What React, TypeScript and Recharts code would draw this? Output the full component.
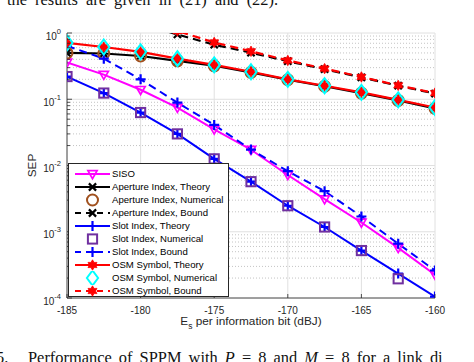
import React from 'react';
import { LineChart, Line, XAxis, YAxis, CartesianGrid, Legend } from 'recharts';

// ---------- data ----------
const ebValues = [-185, -182.5, -180, -177.5, -175, -172.5, -170, -167.5, -165, -162.5, -160];
const sisoSep = [0.36, 0.235, 0.139, 0.0745, 0.035, 0.0173, 0.0072, 0.0031, 0.00138, 0.00057, 0.000225];
const apertureTheory = [0.5, 0.49, 0.45, 0.38, 0.32, 0.255, 0.197, 0.157, 0.124, 0.096, 0.073];
const apertureNumerical = [0.5, 0.49, 0.45, 0.38, 0.32, 0.255, 0.197, 0.157, 0.124, 0.096, 0.073];
const apertureBound = [2.5, 1.85, 1.4, 0.95, 0.665, 0.505, 0.375, 0.285, 0.214, 0.16, 0.122];
const slotTheory = [0.22, 0.124, 0.063, 0.03, 0.0126, 0.0057, 0.00247, 0.00118, 0.00052, 0.000234, 0.000105];
const slotNumerical = [0.22, 0.124, 0.063, 0.03, 0.0126, 0.0057, 0.00247, 0.00118, 0.00052, 0.000195, null];
const slotBound = [0.64, 0.41, 0.2, 0.089, 0.041, 0.0174, 0.0082, 0.0041, 0.0017, 0.00066, 0.00026];
const osmTheory = [0.71, 0.615, 0.52, 0.41, 0.33, 0.26, 0.2, 0.16, 0.127, 0.098, 0.075];
const osmNumerical = [0.71, 0.615, 0.52, 0.41, 0.33, 0.26, 0.2, 0.16, 0.127, 0.098, 0.075];
const osmBound = [2.9, 2.1, 1.5, 1.07, 0.72, 0.53, 0.385, 0.29, 0.217, 0.162, 0.124];

const xTicks = [-185, -180, -175, -170, -165, -160];
const decadeTicks = [0.0001, 0.001, 0.01, 0.1, 1];
const decadeLabels = ['-4', '-3', '-2', '-1', '0'];
const minorYTicks = [
  0.0002, 0.0003, 0.0004, 0.0005, 0.0006, 0.0007, 0.0008, 0.0009,
  0.002, 0.003, 0.004, 0.005, 0.006, 0.007, 0.008, 0.009,
  0.02, 0.03, 0.04, 0.05, 0.06, 0.07, 0.08, 0.09,
  0.2, 0.3, 0.4, 0.5, 0.6, 0.7, 0.8, 0.9,
];
const allYTicks = [...decadeTicks, ...minorYTicks].sort((a, b) => a - b);

const tableData = ebValues.map((x, i) => ({
  x,
  siso: sisoSep[i],
  apT: apertureTheory[i],
  apN: apertureNumerical[i],
  apB: apertureBound[i],
  slT: slotTheory[i],
  slN: slotNumerical[i],
  slB: slotBound[i],
  osT: osmTheory[i],
  osN: osmNumerical[i],
  osB: osmBound[i],
}));

// ---------- styling ----------
const FONT = '"Liberation Sans", Arial, sans-serif';
const AX = '#262626';
const MAGENTA = '#FF00FF';
const BLACK = '#000000';
const BROWN = '#A0501E';
const BLUE = '#0000FF';
const PURPLE = '#7030A0';
const RED = '#FF0000';
const CYAN = '#00FFFF';
const DASH = '8 5';

type Kind = 'triDown' | 'x' | 'circle' | 'plus' | 'square' | 'hex' | 'diamond';

function Marker({ kind, cx, cy, color }: { kind: Kind; cx: number; cy: number; color: string }) {
  switch (kind) {
    case 'triDown':
      return (
        <polygon
          points={`${cx - 4.6},${cy - 3.3} ${cx + 4.6},${cy - 3.3} ${cx},${cy + 4.7}`}
          fill="none"
          stroke={color}
          strokeWidth={1.7}
        />
      );
    case 'x':
      return (
        <path
          d={`M${cx - 3.6},${cy - 3.6}L${cx + 3.6},${cy + 3.6}M${cx - 3.6},${cy + 3.6}L${cx + 3.6},${cy - 3.6}`}
          stroke={color}
          strokeWidth={2.2}
        />
      );
    case 'circle':
      return <circle cx={cx} cy={cy} r={5.5} fill="none" stroke={color} strokeWidth={2} />;
    case 'plus':
      return <path d={`M${cx - 5},${cy}H${cx + 5}M${cx},${cy - 5}V${cy + 5}`} stroke={color} strokeWidth={2.2} />;
    case 'square':
      return <rect x={cx - 4.6} y={cy - 4.6} width={9.2} height={9.2} fill="none" stroke={color} strokeWidth={2} />;
    case 'hex': {
      const pts: string[] = [];
      for (let i = 0; i < 12; i++) {
        const a = ((-90 + i * 30) * Math.PI) / 180;
        const r = i % 2 === 0 ? 5.2 : 3.0;
        pts.push(`${cx + r * Math.cos(a)},${cy + r * Math.sin(a)}`);
      }
      return <polygon points={pts.join(' ')} fill={color} stroke={color} strokeWidth={0.8} />;
    }
    case 'diamond':
      return (
        <polygon
          points={`${cx},${cy - 7.5} ${cx + 5.6},${cy} ${cx},${cy + 7.5} ${cx - 5.6},${cy}`}
          fill="none"
          stroke={color}
          strokeWidth={2}
        />
      );
  }
  return null;
}

const dotOf = (kind: Kind, color: string) => (p: any) => {
  if (p.cx == null || p.cy == null || p.value == null || Number.isNaN(p.cy)) return <g key={`d${p.index}`} />;
  return <Marker key={`d${p.index}`} kind={kind} cx={p.cx} cy={p.cy} color={color} />;
};

const isDecade = (v: number) => decadeTicks.findIndex((d) => Math.abs(d - v) / d < 1e-6);

const YLeftTick = (p: any) => {
  const v = p.payload.value;
  const k = isDecade(v);
  const len = k >= 0 ? 5 : 3;
  return (
    <g>
      <line x1={p.x} x2={p.x + len} y1={p.y} y2={p.y} stroke={AX} strokeWidth={0.8} />
      {k >= 0 && (
        <text x={p.x - 6} y={p.y + 6.5} textAnchor="end" fontSize={10} fill={AX} fontFamily={FONT}>
          10
          <tspan dy={-6} fontSize={7.5}>
            {decadeLabels[k]}
          </tspan>
        </text>
      )}
    </g>
  );
};

const YRightTick = (p: any) => {
  const v = p.payload.value;
  const k = isDecade(v);
  const len = k >= 0 ? 5 : 3;
  return <line x1={p.x - len} x2={p.x} y1={p.y} y2={p.y} stroke={AX} strokeWidth={0.8} />;
};

const XBottomTick = (p: any) => (
  <g>
    <line x1={p.x} x2={p.x} y1={p.y} y2={p.y - 4} stroke={AX} strokeWidth={0.8} />
    <text x={p.x} y={p.y + 16} textAnchor="middle" fontSize={10} fill={AX} fontFamily={FONT}>
      {p.payload.value}
    </text>
  </g>
);

const XTopTick = (p: any) => <line x1={p.x} x2={p.x} y1={p.y} y2={p.y + 4} stroke={AX} strokeWidth={0.8} />;

const XLabel = (p: any) => {
  const vb = p.viewBox || {};
  const cx = vb.x + vb.width / 2;
  const y = vb.y + 27;
  return (
    <text x={cx} y={y} textAnchor="middle" fontSize={11.8} fill={AX} fontFamily={FONT}>
      E
      <tspan dy={3.5} fontSize={8.5}>
        s
      </tspan>
      <tspan dy={-3.5}> per information bit (dBJ)</tspan>
    </text>
  );
};

const YLabel = (p: any) => {
  const vb = p.viewBox || {};
  const cx = vb.x + 25;
  const cy = vb.y + vb.height / 2;
  return (
    <text
      x={cx}
      y={cy}
      transform={`rotate(-90 ${cx} ${cy})`}
      textAnchor="middle"
      dominantBaseline="central"
      fontSize={11.8}
      fill={AX}
      fontFamily={FONT}
    >
      SEP
    </text>
  );
};

type LegendItem = { label: string; color: string; marker: Kind; line: 'solid' | 'dashed' | 'none' };
const legendItems: LegendItem[] = [
  { label: 'SISO', color: MAGENTA, marker: 'triDown', line: 'solid' },
  { label: 'Aperture Index, Theory', color: BLACK, marker: 'x', line: 'solid' },
  { label: 'Aperture Index, Numerical', color: BROWN, marker: 'circle', line: 'none' },
  { label: 'Aperture Index, Bound', color: BLACK, marker: 'x', line: 'dashed' },
  { label: 'Slot Index, Theory', color: BLUE, marker: 'plus', line: 'solid' },
  { label: 'Slot Index, Numerical', color: PURPLE, marker: 'square', line: 'none' },
  { label: 'Slot Index, Bound', color: BLUE, marker: 'plus', line: 'dashed' },
  { label: 'OSM Symbol, Theory', color: RED, marker: 'hex', line: 'solid' },
  { label: 'OSM Symbol, Numerical', color: CYAN, marker: 'diamond', line: 'none' },
  { label: 'OSM Symbol, Bound', color: RED, marker: 'hex', line: 'dashed' },
];

const LegendBox = () => (
  <div
    style={{
      position: 'relative',
      width: 161,
      height: 134,
      boxSizing: 'border-box',
      border: `1px solid ${AX}`,
      background: '#fff',
      fontFamily: FONT,
      fontSize: 9.6,
      color: '#000',
    }}
  >
    {legendItems.map((it, i) => {
      const cy = 9.5 + i * 13;
      return (
        <div key={it.label} style={{ position: 'absolute', left: 0, top: cy - 7, height: 14, width: 159 }}>
          <svg width={44} height={14} style={{ position: 'absolute', left: 0, top: 0 }}>
            {it.line !== 'none' && (
              <line
                x1={6}
                x2={41}
                y1={7}
                y2={7}
                stroke={it.color}
                strokeWidth={2}
                strokeDasharray={it.line === 'dashed' ? '6 5' : undefined}
              />
            )}
            <Marker kind={it.marker} cx={23.5} cy={7} color={it.color} />
          </svg>
          <span style={{ position: 'absolute', left: 43, top: 0, lineHeight: '14px', whiteSpace: 'nowrap' }}>{it.label}</span>
        </div>
      );
    })}
  </div>
);

export default function App() {
  return (
    <div
      style={{
        position: 'absolute',
        left: 0,
        top: 0,
        width: 474,
        height: 362,
        overflow: 'hidden',
        background: '#fff',
      }}
    >
      <div
        style={{
          position: 'absolute',
          left: 7,
          top: -8.5,
          fontFamily: '"Liberation Serif", "Times New Roman", serif',
          fontSize: 16.4,
          lineHeight: '16px',
          whiteSpace: 'pre',
          wordSpacing: 4,
          color: '#111',
        }}
      >
        the results are given in (21) and (22).
      </div>
      <LineChart
        width={474}
        height={362}
        data={tableData}
        margin={{ top: 33, right: 39, bottom: 34, left: 7 }}
      >
        <CartesianGrid horizontalValues={minorYTicks} vertical={false} stroke="#c4c4c4" strokeDasharray="1 2" />
        <CartesianGrid horizontalValues={decadeTicks} stroke="#e0e0e0" />
        <XAxis
          dataKey="x"
          type="number"
          domain={[-185, -160]}
          ticks={xTicks}
          interval={0}
          allowDataOverflow
          tickSize={0}
          tickMargin={0}
          tickLine={false}
          axisLine={{ stroke: AX, strokeWidth: 0.8 }}
          tick={XBottomTick}
          height={30}
          label={<XLabel />}
        />
        <XAxis
          xAxisId="top"
          orientation="top"
          dataKey="x"
          type="number"
          domain={[-185, -160]}
          ticks={xTicks}
          interval={0}
          allowDataOverflow
          tickSize={0}
          tickMargin={0}
          tickLine={false}
          axisLine={{ stroke: AX, strokeWidth: 0.8 }}
          tick={XTopTick}
          height={0}
        />
        <YAxis
          type="number"
          scale="log"
          domain={[0.0001, 1]}
          allowDataOverflow
          ticks={allYTicks}
          interval={0}
          tickSize={0}
          tickMargin={0}
          tickLine={false}
          axisLine={{ stroke: AX, strokeWidth: 0.8 }}
          tick={YLeftTick}
          width={60}
          label={<YLabel />}
        />
        <YAxis
          yAxisId="right"
          orientation="right"
          type="number"
          scale="log"
          domain={[0.0001, 1]}
          allowDataOverflow
          ticks={allYTicks}
          interval={0}
          tickSize={0}
          tickMargin={0}
          tickLine={false}
          axisLine={{ stroke: AX, strokeWidth: 0.8 }}
          tick={YRightTick}
          width={0}
        />

        <Line dataKey="siso" stroke={MAGENTA} strokeWidth={2} dot={dotOf('triDown', MAGENTA)} activeDot={false} isAnimationActive={false} />
        <Line dataKey="apT" stroke={BLACK} strokeWidth={2.2} dot={dotOf('x', BLACK)} activeDot={false} isAnimationActive={false} />
        <Line dataKey="apN" stroke="none" strokeWidth={0} dot={dotOf('circle', BROWN)} activeDot={false} isAnimationActive={false} />
        <Line dataKey="apB" stroke={BLACK} strokeWidth={2.2} strokeDasharray={DASH} dot={dotOf('x', BLACK)} activeDot={false} isAnimationActive={false} />
        <Line dataKey="slT" stroke={BLUE} strokeWidth={2} dot={dotOf('plus', BLUE)} activeDot={false} isAnimationActive={false} />
        <Line dataKey="slN" stroke="none" strokeWidth={0} dot={dotOf('square', PURPLE)} activeDot={false} isAnimationActive={false} />
        <Line dataKey="slB" stroke={BLUE} strokeWidth={2} strokeDasharray={DASH} dot={dotOf('plus', BLUE)} activeDot={false} isAnimationActive={false} />
        <Line dataKey="osT" stroke={RED} strokeWidth={2.2} dot={dotOf('hex', RED)} activeDot={false} isAnimationActive={false} />
        <Line dataKey="osN" stroke="none" strokeWidth={0} dot={dotOf('diamond', CYAN)} activeDot={false} isAnimationActive={false} />
        <Line dataKey="osB" stroke={RED} strokeWidth={2.2} strokeDasharray={DASH} dot={dotOf('hex', RED)} activeDot={false} isAnimationActive={false} />

        <Legend
          layout="vertical"
          align="center"
          verticalAlign="middle"
          wrapperStyle={{ left: 68, top: 163, width: 161, height: 134, margin: 0, padding: 0 }}
          content={() => <LegendBox />}
        />
      </LineChart>
      <div
        style={{
          position: 'absolute',
          left: -4,
          top: 350.3,
          fontFamily: '"Liberation Serif", "Times New Roman", serif',
          fontSize: 16.4,
          lineHeight: '16px',
          whiteSpace: 'pre',
          color: '#111',
        }}
      >
        5.
      </div>
      <div
        style={{
          position: 'absolute',
          left: 28,
          top: 350.3,
          fontFamily: '"Liberation Serif", "Times New Roman", serif',
          fontSize: 16.4,
          lineHeight: '16px',
          whiteSpace: 'pre',
          wordSpacing: 3,
          color: '#111',
        }}
      >
        Performance of SPPM with <i>P</i> = 8 and <i>M</i> = 8 for a link di
      </div>
    </div>
  );
}
